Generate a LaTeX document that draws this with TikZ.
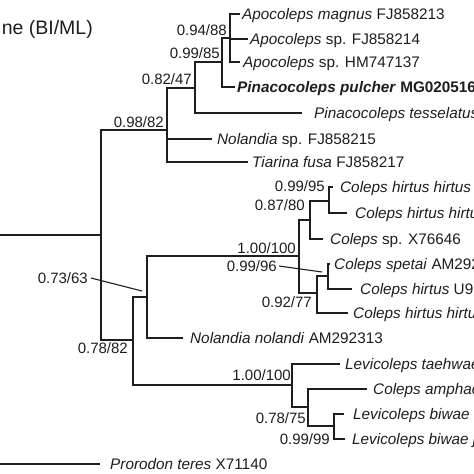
\documentclass[tikz,border=0pt]{standalone}
\usepackage{fontspec}
\setmainfont{Liberation Sans}
\definecolor{ink}{HTML}{1E1E1E}
\begin{document}
\begin{tikzpicture}[x=1pt,y=-1pt,
  br/.style={draw=ink,line width=1.2pt,line join=miter},
  tip/.style={inner sep=0pt,anchor=west,text height=11pt,text depth=0pt,text=ink,
    font=\fontsize{15.3pt}{18pt}\selectfont},
  sup/.style={inner sep=0pt,anchor=east,text height=10.5pt,text depth=0pt,text=ink,
    font=\fontsize{15pt}{18pt}\selectfont},
  ttl/.style={inner sep=0pt,anchor=east,text height=14pt,text depth=0pt,text=ink,
    font=\fontsize{19.5pt}{23pt}\selectfont}]
\useasboundingbox (0,0) rectangle (474,474);
\clip (0,0) rectangle (474,474);
\fill[white] (0,0) rectangle (474,474);
% title
\node[ttl] (title) at (93,27) {ne (BI/ML)};
% internal nodes
\coordinate (root) at (-20,300);
\coordinate (r1) at (101,235);
\coordinate (a098) at (167,130);
\coordinate (a082) at (195,88);
\coordinate (a099) at (222,62);
\coordinate (a094) at (230,38);
\coordinate (b078) at (133,340);
\coordinate (b073) at (147,297);
\coordinate (c100) at (299,256);
\coordinate (c087) at (310,220);
\coordinate (c099) at (329,201);
\coordinate (c092) at (317,293);
\coordinate (c0996) at (328,276);
\coordinate (L100) at (292,385);
\coordinate (L078) at (308,407);
\coordinate (L099) at (334,426);
% tips
\node[tip] (t1) at (242,14) {\textit{Apocoleps magnus} FJ858213};
\node[tip] (t2) at (250,39) {\textit{Apocoleps} sp. FJ858214};
\node[tip] (t3) at (243,62) {\textit{Apocoleps} sp. HM747137};
\node[tip] (t4) at (237,87) {\textbf{\textit{Pinacocoleps pulcher} MG020516}};
\node[tip] (t5) at (314,113) {\textit{Pinacocoleps tesselatus}};
\node[tip] (t6) at (217,139) {\textit{Nolandia} sp. FJ858215};
\node[tip] (t7) at (252,162) {\textit{Tiarina fusa} FJ858217};
\node[tip] (t8) at (340,187) {\textit{Coleps hirtus hirtus}};
\node[tip] (t9) at (355,213) {\textit{Coleps hirtus hirtus}};
\node[tip] (t10) at (330,239) {\textit{Coleps} sp. X76646};
\node[tip] (t11) at (334,264) {\textit{Coleps spetai} AM292312};
\node[tip] (t12) at (360,289) {\textit{Coleps hirtus} U97109};
\node[tip] (t13) at (353,313) {\textit{Coleps hirtus hirtus}};
\node[tip] (t14) at (190,338) {\textit{Nolandia nolandi} AM292313};
\node[tip] (t15) at (345,364) {\textit{Levicoleps taehwae}};
\node[tip] (t16) at (373,389) {\textit{Coleps amphacanthus}};
\node[tip] (t17) at (353,414) {\textit{Levicoleps biwae}};
\node[tip] (t18) at (352,439) {\textit{Levicoleps biwae jejuensis}};
\node[tip] (t19) at (110,464) {\textit{Prorodon teres} X71140};
% branches
\draw[br] (root) |- (r1);
\draw[br] (root) |- ([xshift=-10pt]t19.west);
\draw[br] (r1) |- (a098);
\draw[br] (r1) |- (b078);
\draw[br] (a098) |- (a082);
\draw[br] (a098) |- ([xshift=-5pt]t6.west);
\draw[br] (a098) |- ([xshift=-4pt]t7.west);
\draw[br] (a082) |- (a099);
\draw[br] (a082) |- ([xshift=-12pt]t5.west);
\draw[br] (a099) |- (a094);
\draw[br] (a099) |- ([xshift=-2pt]t4.west);
\draw[br] (a094) |- ([xshift=-2pt]t1.west);
\draw[br] (a094) |- ([xshift=-2pt]t2.west);
\draw[br] (a094) |- ([xshift=-3pt]t3.west);
\draw[br] (b078) |- (b073);
\draw[br] (b078) |- (L100);
\draw[br] (b073) |- (c100);
\draw[br] (b073) |- ([xshift=-7pt]t14.west);
\draw[br] (c100) |- (c087);
\draw[br] (c100) |- (c092);
\draw[br] (c087) |- (c099);
\draw[br] (c087) |- ([xshift=-7pt]t10.west);
\draw[br] (c099) |- ([xshift=-7pt]t8.west);
\draw[br] (c099) |- ([xshift=-8pt]t9.west);
\draw[br] (c092) |- (c0996);
\draw[br] (c092) |- ([xshift=-5pt]t13.west);
\draw[br] (c0996) |- ([xshift=-4pt]t11.west);
\draw[br] (c0996) |- ([xshift=-8pt]t12.west);
\draw[br] (L100) |- ([xshift=-5pt]t15.west);
\draw[br] (L100) |- (L078);
\draw[br] (L078) |- ([xshift=-6pt]t16.west);
\draw[br] (L078) |- (L099);
\draw[br] (L099) |- ([xshift=-9pt]t17.west);
\draw[br] (L099) |- ([xshift=-7pt]t18.west);
% support values
\node[sup] (s1) at (227,30) {0.94/88};
\node[sup] (s2) at (220,53) {0.99/85};
\node[sup] (s3) at (192,79) {0.82/47};
\node[sup] (s4) at (164,122) {0.98/82};
\node[sup] (s5) at (88,278) {0.73/63};
\node[sup] (s6) at (128,348) {0.78/82};
\node[sup] (s7) at (296,248) {1.00/100};
\node[sup] (s8) at (305,205) {0.87/80};
\node[sup] (s9) at (325,186) {0.99/95};
\node[sup] (s10) at (277,266) {0.99/96};
\node[sup] (s11) at (312,302) {0.92/77};
\node[sup] (s12) at (291,375) {1.00/100};
\node[sup] (s13) at (306,418) {0.78/75};
\node[sup] (s14) at (330,439) {0.99/99};
% pointer lines
\coordinate (p1) at (142,291);
\coordinate (p2) at (322,272);
\draw[draw=ink,line width=1.1pt] ([xshift=3pt]s5.east) -- (p1);
\draw[draw=ink,line width=1.1pt] ([xshift=2pt]s10.east) -- (p2);
\end{tikzpicture}
\end{document}
